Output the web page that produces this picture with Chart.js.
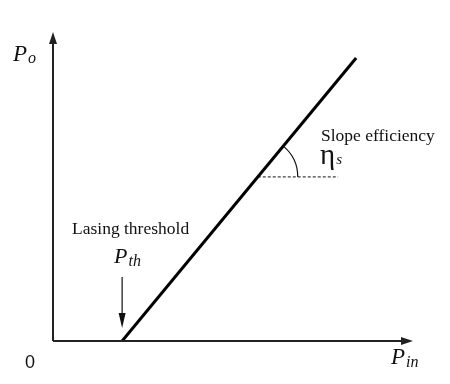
<!DOCTYPE html>
<html><head><meta charset="utf-8">
<script src="https://cdn.jsdelivr.net/npm/chart.js@4"></script>
<style>html,body{margin:0;padding:0;background:#fff}#wrap{width:450px;height:384px}</style>
</head><body><div id="wrap"><canvas id="c" width="450" height="384"></canvas></div>
<script>
// Data (arbitrary units on 0..10 axes)
const thresholdX = 1.92;
const lineEnd = {x: 8.42, y: 9.16};
const slopeRefY = 5.31;
const slopeRefXEnd = 7.92;
const labels = {
  yAxis: ["P", "o"],
  xAxis: ["P", "in"],
  origin: "0",
  threshold: "Lasing threshold",
  thresholdSym: ["P", "th"],
  slope: "Slope efficiency",
  slopeSym: ["η", "s"]
};
const slopeRefXStart = thresholdX + (lineEnd.x - thresholdX) * (slopeRefY / lineEnd.y);

const annot = {
  id: 'annot',
  afterDatasetsDraw(chart) {
    const ctx = chart.ctx, xs = chart.scales.x, ys = chart.scales.y;
    const X = v => xs.getPixelForValue(v), Y = v => ys.getPixelForValue(v);
    ctx.save();
    // axes
    ctx.strokeStyle = '#222'; ctx.fillStyle = '#222'; ctx.lineWidth = 2;
    const ox = X(0), oy = Y(0);
    ctx.beginPath(); ctx.moveTo(ox, oy); ctx.lineTo(X(10) - 6, oy); ctx.moveTo(ox, oy); ctx.lineTo(ox, Y(10) + 6); ctx.stroke();
    ctx.beginPath(); ctx.moveTo(X(10), oy); ctx.lineTo(X(10) - 12, oy - 4); ctx.lineTo(X(10) - 12, oy + 4); ctx.closePath(); ctx.fill();
    ctx.beginPath(); ctx.moveTo(ox, Y(10)); ctx.lineTo(ox - 4, Y(10) + 12); ctx.lineTo(ox + 4, Y(10) + 12); ctx.closePath(); ctx.fill();
    // threshold arrow
    const tx = X(thresholdX);
    ctx.lineWidth = 1.2; ctx.strokeStyle = '#111'; ctx.fillStyle = '#111';
    ctx.beginPath(); ctx.moveTo(tx, 277); ctx.lineTo(tx, 315); ctx.stroke();
    ctx.beginPath(); ctx.moveTo(tx, 328); ctx.lineTo(tx - 3.5, 313); ctx.lineTo(tx + 3.5, 313); ctx.closePath(); ctx.fill();
    // angle arc
    const cx = X(slopeRefXStart), cy = Y(slopeRefY);
    const ang = Math.atan2(Y(lineEnd.y) - Y(0), X(lineEnd.x) - X(thresholdX));
    ctx.beginPath(); ctx.arc(cx, cy, 40, ang, 0); ctx.stroke();
    // texts
    ctx.fillStyle = '#111'; ctx.textBaseline = 'alphabetic'; ctx.textAlign = 'left';
    function sub(main, s, x, y, f1, f2, italicMain, dy) {
      ctx.font = (italicMain ? 'italic ' : '') + f1 + 'px "Liberation Serif"';
      ctx.fillText(main, x, y);
      const w = ctx.measureText(main).width;
      ctx.font = 'italic ' + f2 + 'px "Liberation Serif"';
      ctx.fillText(s, x + w + 1, y + dy);
    }
    sub(labels.yAxis[0], labels.yAxis[1], 13, 61, 23, 16, true, 2);
    sub(labels.xAxis[0], labels.xAxis[1], 391, 364, 23, 16, true, 3);
    sub(labels.thresholdSym[0], labels.thresholdSym[1], 114, 263, 22, 16, true, 3);
    sub(labels.slopeSym[0], labels.slopeSym[1], 320, 164, 29, 15, false, 0);
    ctx.font = '17.5px "Liberation Serif"';
    ctx.fillText(labels.threshold, 72, 234);
    ctx.fillText(labels.slope, 321, 141);
    ctx.font = '18px "Liberation Sans"';
    ctx.fillText(labels.origin, 25, 368);
    ctx.restore();
  }
};

new Chart(document.getElementById('c'), {
  type: 'scatter',
  data: {
    datasets: [
      {data: [{x: thresholdX, y: 0}, lineEnd], showLine: true, borderColor: '#000', borderWidth: 3, pointRadius: 0},
      {data: [{x: slopeRefXStart, y: slopeRefY}, {x: slopeRefXEnd, y: slopeRefY}], showLine: true, borderColor: '#111', borderWidth: 1, borderDash: [3, 2], pointRadius: 0}
    ]
  },
  options: {
    responsive: false, animation: false, events: [],
    layout: {padding: {left: 53, right: 37, top: 32, bottom: 43}},
    plugins: {legend: {display: false}, tooltip: {enabled: false}},
    scales: {
      x: {type: 'linear', min: 0, max: 10, display: false},
      y: {type: 'linear', min: 0, max: 10, display: false}
    }
  },
  plugins: [annot]
});
</script></body></html>
